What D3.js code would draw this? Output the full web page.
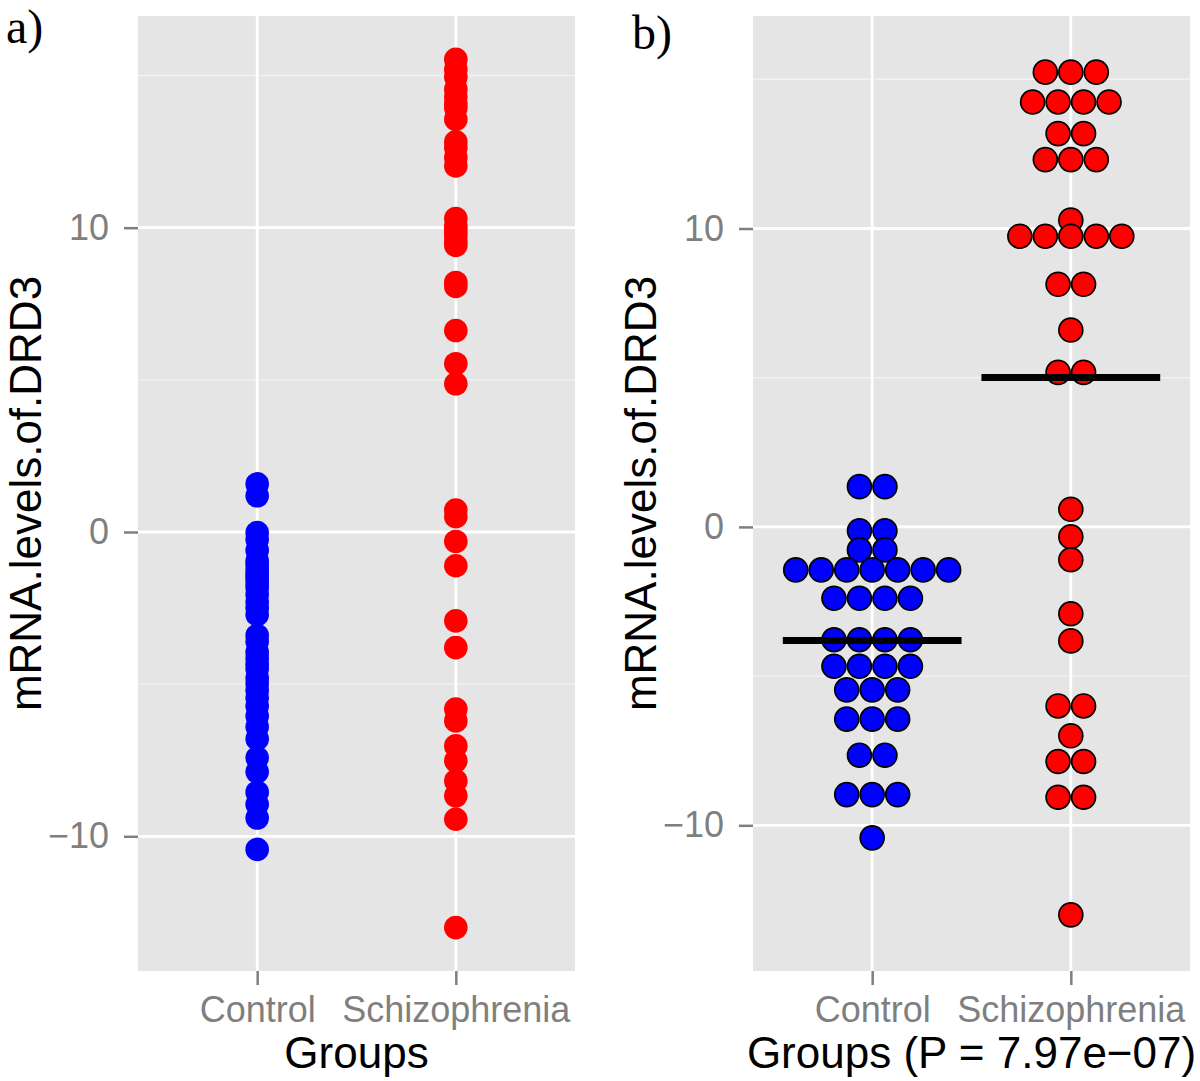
<!DOCTYPE html>
<html>
<head>
<meta charset="utf-8">
<script src="https://cdn.jsdelivr.net/npm/d3@7"></script>
<style>
  body { margin: 0; background: #fff; }
  svg { display: block; }
</style>
</head>
<body>
<div id="chart"></div>
<script>
// groups and raw DRD3 mRNA levels (panel a)
const groups = ["Control", "Schizophrenia"];
const controlValues = [
    1.58, 1.19, -0.02, -0.25, -0.6, -0.95,
    -1.05, -1.2, -1.35, -1.45, -1.55, -1.7, -1.83,
    -2.05, -2.3, -2.5, -2.72, -3.4, -3.6, -3.95, -4.15,
    -4.35, -4.5, -4.8, -4.98, -5.2, -5.45, -5.72,
    -6.05, -6.4, -6.8, -7.42, -7.88, -8.55, -8.95, -9.4, -10.43
];
const schizoValues = [
    15.53, 15.2, 14.95, 14.55, 14.3, 14.08, 13.93, 13.56, 12.82,
    12.63, 12.3, 12.03, 10.3, 10.05, 9.9, 9.75, 9.55, 9.42,
    8.2, 8.07, 6.62, 5.53, 4.87, 0.72, 0.5, -0.31, -1.11,
    -2.92, -3.8, -5.82, -6.21, -7.03, -7.52, -8.18, -8.67, -9.44, -13.0
];

// binned dot plot (panel b): bin centre and number of dots in the bin
const controlBinCentres = [1.35, -0.13, -0.77, -1.44, -2.39, -3.78, -4.67, -5.46, -6.44, -7.65, -8.97, -10.42];
const controlBinCounts  = [2, 2, 2, 7, 4, 4, 4, 3, 3, 2, 3, 1];
const schizoBinCentres  = [15.24, 14.24, 13.18, 12.31, 10.28, 9.74, 8.13, 6.6, 5.18,
                           0.59, -0.33, -1.1, -2.91, -3.82, -6.0, -7.0, -7.86, -9.06, -13.0];
const schizoBinCounts   = [3, 4, 2, 3, 1, 5, 2, 1, 2, 1, 1, 1, 1, 1, 2, 1, 2, 2, 1];
const binWidth = 0.854;

const yTicks = [-10, 0, 10];
const yMinorTicks = [-5, 5, 15];
const colours = ["#0000FF", "#FF0000"];
const yTitle = "mRNA.levels.of.DRD3";
const xTitleA = "Groups";
const xTitleB = "Groups (P = 7.97e\u221207)";

const W = 1200, H = 1081;
const panelTop = 16, panelBottom = 971, panelWidth = 437;

const svg = d3.select("#chart")
    .append("svg")
    .attr("width", W)
    .attr("height", H);

// pad a [min, max] extent by 5% on each side, like ggplot does
function expand(ext) {
    const pad = (ext[1] - ext[0]) * 0.05;
    return [ext[0] - pad, ext[1] + pad];
}

function drawFrame(left, yDomain, xTitle, tag, tagBaseline) {
    const g = svg.append("g").attr("transform", `translate(${left},0)`);

    const x = d3.scalePoint()
        .domain(groups)
        .range([0, panelWidth])
        .padding(0.6);

    const y = d3.scaleLinear()
        .domain(yDomain)
        .range([panelBottom, panelTop]);

    g.append("rect")
        .attr("x", 0)
        .attr("y", panelTop)
        .attr("width", panelWidth)
        .attr("height", panelBottom - panelTop)
        .attr("fill", "#E5E5E5");

    // minor grid
    g.selectAll(".minor")
        .data(yMinorTicks.filter(t => t > yDomain[0] && t < yDomain[1]))
        .enter()
        .append("line")
        .attr("x1", 0)
        .attr("x2", panelWidth)
        .attr("y1", d => y(d))
        .attr("y2", d => y(d))
        .attr("stroke", "#F2F2F2")
        .attr("stroke-width", 1.4);

    // major grid
    g.selectAll(".major-y")
        .data(yTicks)
        .enter()
        .append("line")
        .attr("x1", 0)
        .attr("x2", panelWidth)
        .attr("y1", d => y(d))
        .attr("y2", d => y(d))
        .attr("stroke", "#fff")
        .attr("stroke-width", 2.8);

    g.selectAll(".major-x")
        .data(groups)
        .enter()
        .append("line")
        .attr("x1", d => x(d))
        .attr("x2", d => x(d))
        .attr("y1", panelTop)
        .attr("y2", panelBottom)
        .attr("stroke", "#fff")
        .attr("stroke-width", 2.8);

    // axes
    const yAxis = g.append("g")
        .call(d3.axisLeft(y).tickValues(yTicks).tickSize(14).tickPadding(15));
    const xAxis = g.append("g")
        .attr("transform", `translate(0,${panelBottom})`)
        .call(d3.axisBottom(x).tickSize(14).tickPadding(11));

    [yAxis, xAxis].forEach(a => {
        a.select(".domain").remove();
        a.selectAll("line").attr("stroke", "#7F7F7F").attr("stroke-width", 2.5);
        a.selectAll("text")
            .attr("fill", "#7F7F7F")
            .style("font-family", "'Liberation Sans', Arial, sans-serif")
            .style("font-size", "36px");
    });

    // axis titles
    g.append("text")
        .attr("x", panelWidth / 2)
        .attr("y", 1068)
        .attr("text-anchor", "middle")
        .style("font-family", "'Liberation Sans', Arial, sans-serif")
        .style("font-size", "44px")
        .text(xTitle);

    g.append("text")
        .attr("transform", `translate(-97,${(panelTop + panelBottom) / 2}) rotate(-90)`)
        .attr("text-anchor", "middle")
        .style("font-family", "'Liberation Sans', Arial, sans-serif")
        .style("font-size", "44px")
        .text(yTitle);

    svg.append("text")
        .attr("x", tag[1])
        .attr("y", tagBaseline)
        .style("font-family", "'Liberation Serif', 'Times New Roman', serif")
        .style("font-size", "48px")
        .text(tag[0]);

    return { g, x, y };
}

// ---- panel a: strip chart of raw values
const valuesByGroup = [controlValues, schizoValues];
const allValues = controlValues.concat(schizoValues);
const pa = drawFrame(138, expand(d3.extent(allValues)), xTitleA, ["a)", 6], 43);

const stripData = valuesByGroup.flatMap((vals, i) =>
    vals.map(v => ({ group: groups[i], value: v, colour: colours[i] })));

pa.g.selectAll(".pt")
    .data(stripData)
    .enter()
    .append("circle")
    .attr("class", "pt")
    .attr("cx", d => pa.x(d.group))
    .attr("cy", d => pa.y(d.value))
    .attr("r", 11.8)
    .attr("fill", d => d.colour);

// ---- panel b: dot plot with group means
const bins = [
    { centres: controlBinCentres, counts: controlBinCounts },
    { centres: schizoBinCentres, counts: schizoBinCounts }
];
const allCentres = controlBinCentres.concat(schizoBinCentres);
const binExt = d3.extent(allCentres);
const pb = drawFrame(753, expand([binExt[0] - binWidth / 2, binExt[1] + binWidth / 2]),
    xTitleB, ["b)", 632], 49);

const dotD = binWidth * (pb.y(0) - pb.y(1));
const dotData = bins.flatMap((b, i) =>
    b.centres.flatMap((c, k) =>
        d3.range(b.counts[k]).map(j => ({
            group: groups[i],
            value: c,
            offset: (j - (b.counts[k] - 1) / 2) * dotD,
            colour: colours[i]
        }))));

pb.g.selectAll(".dot")
    .data(dotData)
    .enter()
    .append("circle")
    .attr("class", "dot")
    .attr("cx", d => pb.x(d.group) + d.offset)
    .attr("cy", d => pb.y(d.value))
    .attr("r", dotD / 2 - 0.8)
    .attr("fill", d => d.colour)
    .attr("stroke", "#000")
    .attr("stroke-width", 1.7);

const means = valuesByGroup.map((vals, i) => ({ group: groups[i], mean: d3.mean(vals) }));
const half = pb.x.step() * 0.45;

pb.g.selectAll(".mean")
    .data(means)
    .enter()
    .append("line")
    .attr("class", "mean")
    .attr("x1", d => pb.x(d.group) - half)
    .attr("x2", d => pb.x(d.group) + half)
    .attr("y1", d => pb.y(d.mean))
    .attr("y2", d => pb.y(d.mean))
    .attr("stroke", "#000")
    .attr("stroke-width", 7);
</script>
</body>
</html>
